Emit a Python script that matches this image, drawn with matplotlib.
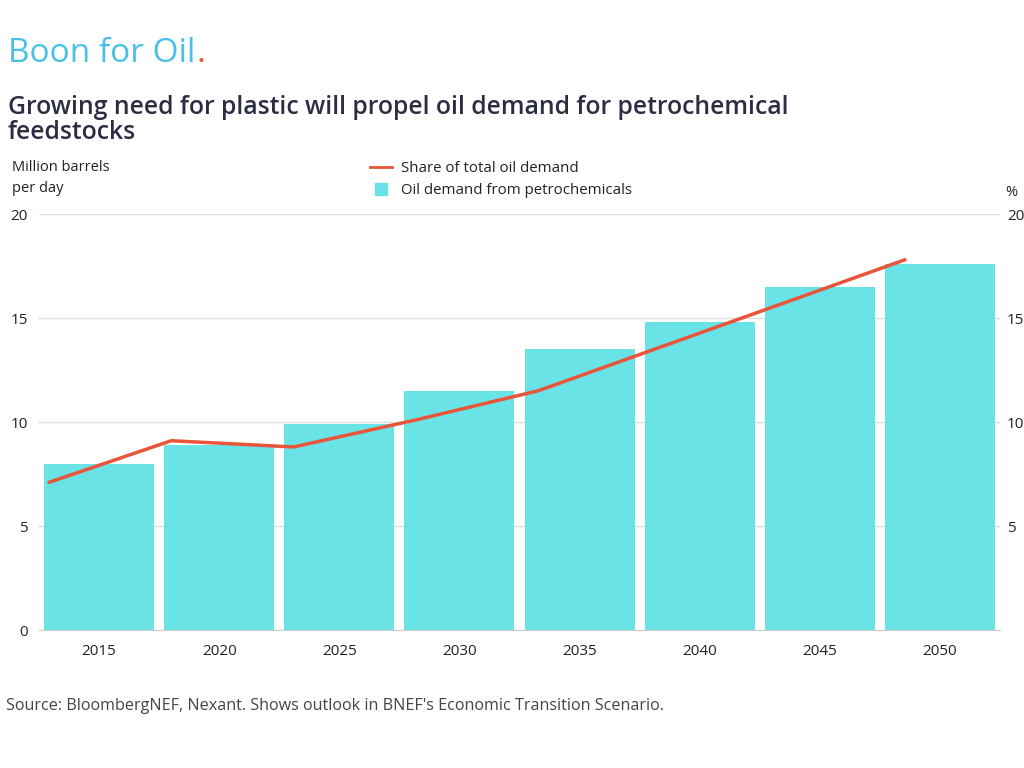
import matplotlib.pyplot as plt
from matplotlib.lines import Line2D

plt.rcParams['font.family'] = ['Open Sans', 'DejaVu Sans']

years = ['2015', '2020', '2025', '2030', '2035', '2040', '2045', '2050']
petchem_demand = [8.0, 8.9, 9.9, 11.5, 13.5, 14.8, 16.5, 17.6]   # million barrels per day
share_of_total = [7.1, 9.1, 8.8, 10.1, 11.5, 13.6, 15.7, 17.8]   # %

bar_color = '#69E3E6'
line_color = '#E8553A'
text_color = '#222222'

fig = plt.figure(figsize=(10.24, 7.68), dpi=100)
pos = [39 / 1024, 1 - 630 / 768, 961 / 1024, 416 / 768]

ax = fig.add_axes(pos)
x = range(len(years))
ax.bar(x, petchem_demand, width=0.915, color=bar_color, zorder=2)
ax.set_xlim(-0.5, 7.5)
ax.set_ylim(0, 20)
ax.set_yticks([0, 5, 10, 15, 20])
ax.set_xticks(list(x))
ax.set_xticklabels(years)
ax.grid(axis='y', color='#dddddd', linewidth=1, zorder=0)
for s in ['top', 'right', 'left']:
    ax.spines[s].set_visible(False)
ax.spines['bottom'].set_color('#cccccc')
ax.tick_params(axis='both', length=0, labelsize=11, colors=text_color)
ax.tick_params(axis='x', pad=10)
ax.tick_params(axis='y', pad=8)

# line sits on its own x scale (as in the original chart)
lax = fig.add_axes(pos, frameon=False)
lax.plot(x, share_of_total, color=line_color, linewidth=2.5, solid_capstyle='round', zorder=3)
lax.set_xlim(-0.082, 7.777)
lax.set_ylim(0, 20)
lax.set_xticks([])
lax.yaxis.tick_right()
lax.set_yticks([5, 10, 15, 20])
lax.tick_params(axis='y', length=0, labelsize=11, colors=text_color, pad=5)

title = fig.text(8 / 1024, 1 - 62 / 768, 'Boon for Oil', fontsize=24, color='#4AC0E8', va='baseline')
dot = fig.text(0, 1 - 62 / 768, '.', fontsize=24, color=line_color, va='baseline')
fig.canvas.draw()
bb = title.get_window_extent()
dot.set_position((bb.x1 / 1024 + 1 / 1024, 1 - 62 / 768))

fig.text(8 / 1024, 1 - 114 / 768, 'Growing need for plastic will propel oil demand for petrochemical',
         fontsize=17.8, fontweight='semibold', color='#2B2D42', va='baseline')
fig.text(8 / 1024, 1 - 139 / 768, 'feedstocks',
         fontsize=17.8, fontweight='semibold', color='#2B2D42', va='baseline')

fig.text(12 / 1024, 1 - 160 / 768, 'Million barrels\nper day', fontsize=10.5, color=text_color,
         va='top', linespacing=1.55)
fig.text(1005 / 1024, 1 - 193 / 768, '%', fontsize=10.5, color=text_color, va='center')

handles = [Line2D([], [], color=line_color, linewidth=2),
           Line2D([], [], color=bar_color, marker='s', linestyle='none', markersize=8)]
fig.legend(handles, ['Share of total oil demand', 'Oil demand from petrochemicals'],
           loc='upper left', bbox_to_anchor=(356 / 1024, 1 - 148 / 768), frameon=False,
           prop={'size': 10.8}, handlelength=1.5, handletextpad=0.6, labelspacing=0.42,
           labelcolor=text_color)

fig.text(6 / 1024, 1 - 706 / 768,
         "Source: BloombergNEF, Nexant. Shows outlook in BNEF's Economic Transition Scenario.",
         fontsize=11.6, color='#444444', va='center')

fig.savefig('out.png', dpi=100, facecolor='white')
